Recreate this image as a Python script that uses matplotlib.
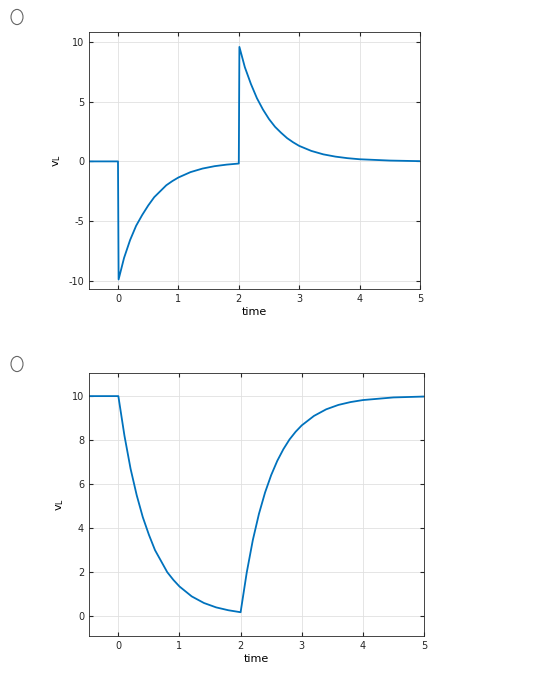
import matplotlib
matplotlib.use("Agg")
import matplotlib.pyplot as plt
from matplotlib.patches import Circle

plt.rcParams['axes.unicode_minus'] = False

t_top = [-0.5, 0, 0.01, 0.1, 0.2, 0.3, 0.4, 0.5, 0.6, 0.7, 0.8, 0.9, 1.0, 1.2, 1.4, 1.6, 1.8, 2.0,
         2.01, 2.1, 2.2, 2.3, 2.4, 2.5, 2.6, 2.7, 2.8, 2.9, 3.0, 3.2, 3.4, 3.6, 3.8, 4.0, 4.5, 5.0]
v_top = [0, 0, -9.9, -8.1, -6.6, -5.4, -4.5, -3.7, -3.0, -2.5, -2.0, -1.65, -1.35, -0.9, -0.6, -0.4, -0.27, -0.18,
         9.6, 7.9, 6.5, 5.3, 4.35, 3.55, 2.9, 2.4, 1.95, 1.6, 1.3, 0.88, 0.59, 0.4, 0.27, 0.18, 0.07, 0.02]

t_bot = [-0.5, 0, 0.1, 0.2, 0.3, 0.4, 0.5, 0.6, 0.7, 0.8, 0.9, 1.0, 1.2, 1.4, 1.6, 1.8, 2.0,
         2.1, 2.2, 2.3, 2.4, 2.5, 2.6, 2.7, 2.8, 2.9, 3.0, 3.2, 3.4, 3.6, 3.8, 4.0, 4.5, 5.0]
v_bot = [10, 10, 8.2, 6.7, 5.5, 4.5, 3.7, 3.0, 2.5, 2.0, 1.65, 1.35, 0.9, 0.6, 0.4, 0.27, 0.18,
         1.98, 3.46, 4.65, 5.62, 6.41, 7.06, 7.59, 8.03, 8.38, 8.67, 9.1, 9.4, 9.6, 9.73, 9.82, 9.94, 9.98]

xticks = [0, 1, 2, 3, 4, 5]
yticks_top = [-10, -5, 0, 5, 10]
yticks_bot = [0, 2, 4, 6, 8, 10]

W, H = 550, 694
fig = plt.figure(figsize=(5.5, 6.94), dpi=100)

def ax_at(l, t, r, b):
    return fig.add_axes([l / W, 1 - b / H, (r - l) / W, (b - t) / H])

col = "#0072BD"
for (l, t, r, b), tt, vv, yl, yt in [((89, 32, 420, 289), t_top, v_top, (-10.7, 10.85), yticks_top),
                                     ((89, 373, 424, 636), t_bot, v_bot, (-0.9, 11.05), yticks_bot)]:
    ax = ax_at(l, t, r, b)
    ax.plot(tt, vv, color=col, lw=1.3)
    ax.set_xlim(-0.48, 5)
    ax.set_ylim(*yl)
    ax.set_xticks(xticks)
    ax.set_yticks(yt)
    ax.grid(True, color="#e0e0e0", lw=0.6)
    ax.tick_params(direction="in", labelsize=7, length=3, top=True, right=True, colors="#262626")
    for s in ax.spines.values():
        s.set_color("#262626"); s.set_linewidth(0.6)
    ax.set_xlabel("time", fontsize=8, labelpad=2)
    ax.set_ylabel("v$_\\mathregular{L}$", fontsize=8)

for cy in (17, 364):
    fig.patches.append(Circle((17 / W, 1 - cy / H), 6 / W, transform=fig.transFigure,
                              fill=False, ec="#666666", lw=0.8))
fig.savefig("out.png", dpi=100)
